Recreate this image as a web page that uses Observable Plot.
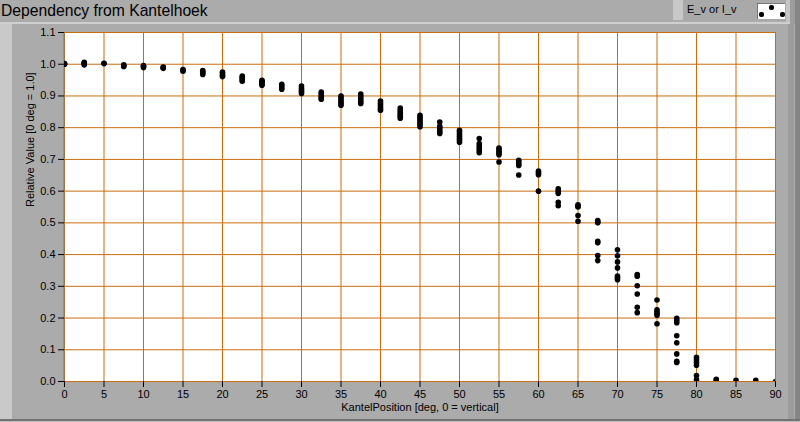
<!DOCTYPE html>
<html>
<head>
<meta charset="utf-8">
<script src="https://cdn.jsdelivr.net/npm/d3@7"></script>
<script src="https://cdn.jsdelivr.net/npm/@observablehq/plot@0.6"></script>
<style>
  html, body { margin: 0; padding: 0; background: #ababab; }
  #wrap { position: relative; width: 800px; height: 422px; overflow: hidden; background: #ababab; font-family: "Liberation Sans", Arial, sans-serif; }
  .deco { position: absolute; }
  #title { position: relative; z-index: 2; height: 22px; line-height: 22px; font-size: 15.7px; padding-left: 1px; color: #000; white-space: nowrap; }
  #chart { position: relative; z-index: 2; height: 400px; }
  #legend { position: absolute; z-index: 3; left: 673px; top: 0; width: 113px; height: 20px; background: #a9a9a9; }
  #legend .strip { position: absolute; left: 0; top: 0; width: 10px; height: 20px; background: #c8c8c8; }
  #legend .txt { position: absolute; left: 14px; top: 0; height: 20px; line-height: 19px; font-size: 11px; color: #000; white-space: nowrap; }
  #legend .box { position: absolute; left: 84px; top: 3px; width: 28px; height: 16px; background: #fff; border-top: 1px solid #777; border-left: 1px solid #777; box-sizing: border-box; }
  #legend .pt { position: absolute; width: 5px; height: 5px; background: #000; border-radius: 2px; }
</style>
</head>
<body>
<div id="wrap">
  <div class="deco" style="left:0;top:22px;width:792px;height:2px;background:#cfcfcf;"></div>
  <div class="deco" style="left:0;top:24px;width:12px;height:395px;background:#c9c9c9;"></div>
  <div class="deco" style="left:786px;top:0;width:4px;height:22px;background:#c4c4c4;"></div>
  <div class="deco" style="left:788px;top:24px;width:6px;height:395px;background:#9c9c9c;"></div>
  <div class="deco" style="left:790px;top:0;width:5px;height:24px;background:#9c9c9c;"></div>
  <div class="deco" style="left:795px;top:0;width:5px;height:422px;background:#858585;"></div>
  <div class="deco" style="left:0;top:419px;width:800px;height:2px;background:#737373;"></div>
  <div class="deco" style="left:0;top:421px;width:800px;height:1px;background:#bdbdbd;"></div>
  <div id="legend">
    <div class="strip"></div>
    <div class="txt">E_v or I_v</div>
    <div class="box">
      <div class="pt" style="left:11px;top:1px;"></div>
      <div class="pt" style="left:1px;top:8px;"></div>
      <div class="pt" style="left:22px;top:8px;"></div>
    </div>
  </div>
  <div id="title">Dependency from Kantelhoek</div>
  <div id="chart"></div>
</div>
<script>
const angles = [0, 2.5, 5, 7.5, 10, 12.5, 15, 17.5, 20, 22.5, 25, 27.5, 30, 32.5, 35, 37.5, 40, 42.5, 45, 47.5, 50, 52.5, 55, 57.5, 60, 62.5, 65, 67.5, 70, 72.5, 75, 77.5, 80, 82.5, 85, 87.5, 90];
const relValues = [
  [1.0, 1.001, 1.002],
  [0.998, 1.001, 1.004, 1.006],
  [1.002, 1.003],
  [0.993, 0.995, 0.998],
  [0.99, 0.993, 0.996],
  [0.987, 0.989, 0.991],
  [0.978, 0.981, 0.983],
  [0.968, 0.972, 0.976, 0.98],
  [0.961, 0.965, 0.97, 0.975],
  [0.946, 0.95, 0.955, 0.959, 0.963],
  [0.934, 0.938, 0.942, 0.946, 0.949],
  [0.921, 0.926, 0.931, 0.937],
  [0.908, 0.913, 0.918, 0.924, 0.931],
  [0.89, 0.895, 0.9, 0.906, 0.912],
  [0.871, 0.876, 0.882, 0.888, 0.894, 0.9],
  [0.876, 0.882, 0.888, 0.894, 0.9, 0.906],
  [0.855, 0.86, 0.866, 0.872, 0.878, 0.884],
  [0.83, 0.836, 0.842, 0.848, 0.855, 0.862],
  [0.803, 0.809, 0.815, 0.821, 0.827, 0.833, 0.839],
  [0.782, 0.787, 0.793, 0.799, 0.804, 0.818],
  [0.754, 0.76, 0.766, 0.773, 0.779, 0.786, 0.792],
  [0.721, 0.728, 0.735, 0.742, 0.75, 0.766],
  [0.692, 0.715, 0.72, 0.725, 0.731, 0.736],
  [0.651, 0.681, 0.686, 0.692, 0.697],
  [0.6, 0.652, 0.657, 0.663],
  [0.554, 0.565, 0.593, 0.6, 0.607],
  [0.505, 0.523, 0.55, 0.553, 0.557],
  [0.381, 0.397, 0.437, 0.442, 0.5, 0.503, 0.507],
  [0.321, 0.326, 0.332, 0.358, 0.377, 0.396, 0.415],
  [0.217, 0.234, 0.276, 0.302, 0.332, 0.337],
  [0.182, 0.209, 0.214, 0.22, 0.226, 0.257],
  [0.06, 0.064, 0.087, 0.122, 0.144, 0.185, 0.192, 0.199],
  [0.006, 0.019, 0.051, 0.06, 0.068, 0.076],
  [0.004, 0.007],
  [0.004],
  [0.004],
  [0.0]
];
const xTicks = [0, 5, 10, 15, 20, 25, 30, 35, 40, 45, 50, 55, 60, 65, 70, 75, 80, 85, 90];
const yTicks = [0, 0.1, 0.2, 0.3, 0.4, 0.5, 0.6, 0.7, 0.8, 0.9, 1.0, 1.1];
const xLabel = "KantelPosition [deg, 0 = vertical]";
const yLabel = "Relative Value [0 deg = 1.0]";

const points = angles.flatMap((a, i) => relValues[i].map(v => ({angle: a, value: v})));
const gridColor = "#c96d0c";

const chart = Plot.plot({
  width: 800,
  height: 400,
  marginLeft: 64,
  marginRight: 25,
  marginTop: 10,
  marginBottom: 41,
  style: "background: transparent; font-family: 'Liberation Sans', Arial, sans-serif; font-size: 11px; color: #000; overflow: visible;",
  x: {domain: [0, 90], label: null},
  y: {domain: [0, 1.1], label: null},
  marks: [
    Plot.frame({fill: "white", stroke: null}),
    Plot.gridX(xTicks, {stroke: gridColor, strokeOpacity: 1, strokeWidth: 1}),
    Plot.gridY(yTicks, {stroke: gridColor, strokeOpacity: 1, strokeWidth: 1}),
    Plot.ruleX([0], {stroke: "#7a7a7a", strokeWidth: 1, dx: -0.5}),
    Plot.axisX(xTicks, {tickSize: 6, tickPadding: 3, tickFormat: d => String(d), label: null, stroke: "#000"}),
    Plot.axisY(yTicks, {tickSize: 6, tickPadding: 3, tickFormat: d => d.toFixed(1), label: null, stroke: "#000"}),
    Plot.dot(points, {x: "angle", y: "value", r: 2.8, fill: "#000", stroke: null, clip: true}),
    Plot.text([xLabel], {frameAnchor: "bottom", text: d => d, dy: 29, fontSize: 11, fill: "#000"}),
    Plot.text([yLabel], {frameAnchor: "left", text: d => d, dx: -34, rotate: -90, fontSize: 11, fill: "#000"})
  ]
});
document.getElementById("chart").appendChild(chart);
</script>
</body>
</html>
